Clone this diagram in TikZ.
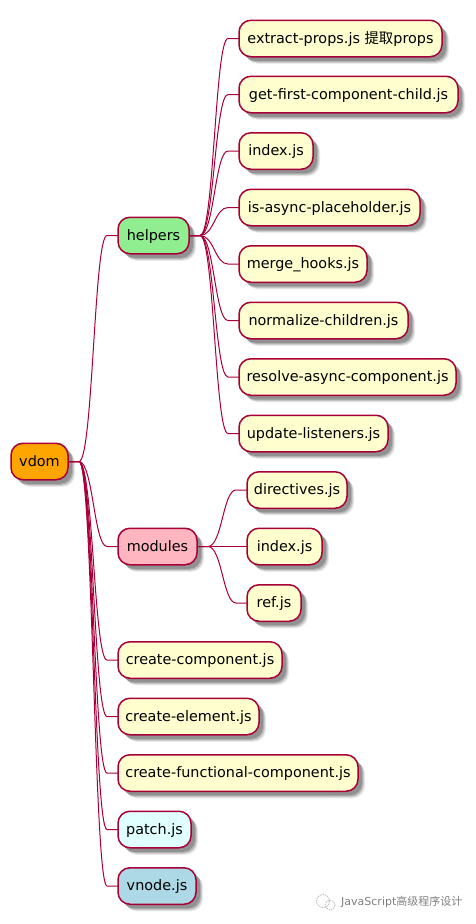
\documentclass[tikz,border=0pt]{standalone}
\usepackage{fontspec}
\setmainfont{DejaVu Sans}
\newfontfamily\cjkfont{Noto Sans CJK SC}
\usetikzlibrary{calc,shadows}
\definecolor{edgecol}{HTML}{A80036}
\definecolor{leafcol}{HTML}{FEFECE}
\definecolor{rootcol}{HTML}{FFA500}
\definecolor{greencol}{HTML}{90EE90}
\definecolor{pinkcol}{HTML}{FFB6C1}
\definecolor{cyancol}{HTML}{E0FFFF}
\definecolor{bluecol}{HTML}{ADD8E6}
\tikzset{
  mapbox/.style={draw=edgecol,line width=1.5pt,rounded corners=12pt,anchor=west,inner sep=0pt,outer sep=0pt,
    minimum height=36.5pt,text=black,font=\fontsize{14.4}{16}\selectfont,
    text height=11pt,text depth=2pt,
    general shadow={shadow xshift=7pt,shadow yshift=-7pt,fill=black,opacity=.08},
    general shadow={shadow xshift=6pt,shadow yshift=-6pt,fill=black,opacity=.12},
    general shadow={shadow xshift=5pt,shadow yshift=-5pt,fill=black,opacity=.14},
    general shadow={shadow xshift=4pt,shadow yshift=-4pt,fill=black,opacity=.18}},
  leafbox/.style={mapbox,fill=leafcol},
  link/.style={draw=edgecol,line width=1pt},
}
\newcommand{\branch}[2]{\draw[link] (#1.east) -- ++(11,0) .. controls +(14,0) and ($(#2.west)+(-24,0)$) .. ($(#2.west)+(-11,0)$) -- (#2.west);}
\begin{document}
\begin{tikzpicture}[x=1pt,y=-1pt]
\useasboundingbox (0,0) rectangle (476,924);
\node[mapbox,fill=rootcol,minimum width=57pt] (vdom) at (11,461.5) {vdom};
\node[mapbox,fill=greencol,minimum width=71pt] (helpers) at (118,235.5) {helpers};
\node[mapbox,fill=pinkcol,minimum width=79pt] (modules) at (118,546.5) {modules};
\node[leafbox,minimum width=203pt] (h1) at (239,38.5) {extract-props.js {\cjkfont 提取}props};
\node[leafbox,minimum width=219pt] (h2) at (239,94.5) {get-first-component-child.js};
\node[leafbox,minimum width=74pt] (h3) at (239,151) {index.js};
\node[leafbox,minimum width=181pt] (h4) at (239,207.5) {is-async-placeholder.js};
\node[leafbox,minimum width=128pt] (h5) at (239,264) {merge\_hooks.js};
\node[leafbox,minimum width=169pt] (h6) at (239,320.5) {normalize-children.js};
\node[leafbox,minimum width=217pt] (h7) at (239,377) {resolve-async-component.js};
\node[leafbox,minimum width=149pt] (h8) at (239,433.5) {update-listeners.js};
\node[leafbox,minimum width=100pt] (m1) at (247,490) {directives.js};
\node[leafbox,minimum width=75pt] (m2) at (247,546.5) {index.js};
\node[leafbox,minimum width=54pt] (m3) at (247,603) {ref.js};
\node[leafbox,minimum width=164pt] (c1) at (118,660) {create-component.js};
\node[leafbox,minimum width=141pt] (c2) at (118,716.5) {create-element.js};
\node[leafbox,minimum width=240pt] (c3) at (118,773) {create-functional-component.js};
\node[mapbox,fill=cyancol,minimum width=73pt] (c4) at (118,829.5) {patch.js};
\node[mapbox,fill=bluecol,minimum width=78pt] (c5) at (118,886) {vnode.js};
\foreach \t in {helpers,modules,c1,c2,c3,c4,c5} {\branch{vdom}{\t}}
\foreach \t in {h1,h2,h3,h4,h5,h6,h7,h8} {\branch{helpers}{\t}}
\foreach \t in {m1,m2,m3} {\branch{modules}{\t}}
% watermark
\begin{scope}[draw=black!30,line width=0.7pt,dash pattern=on 1.5pt off 1pt]
\draw (323,901) circle (6.5);
\draw (330,905) circle (5);
\end{scope}
\node[anchor=west,inner sep=0pt,text=black!50,font=\fontsize{11}{13}\selectfont] (mark) at (341,902) {JavaScript{\cjkfont 高级程序设计}};
\end{tikzpicture}
\end{document}
